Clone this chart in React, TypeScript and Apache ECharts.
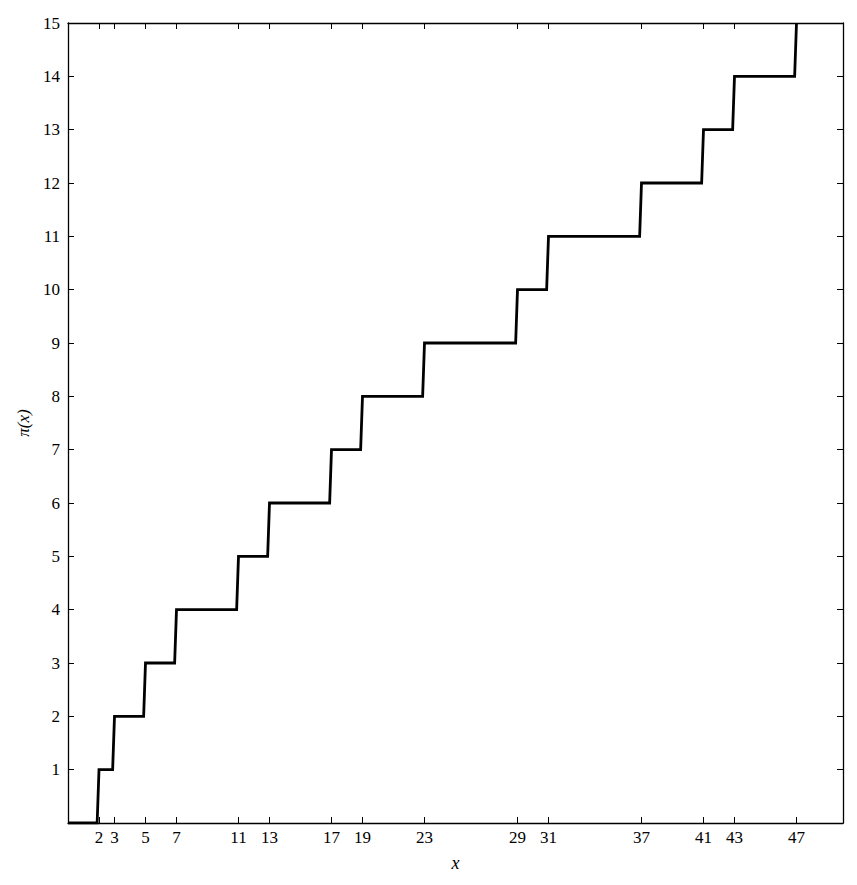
import { useEffect, useRef } from 'react'
import * as echarts from 'echarts'

// primes below 50 and the running count pi(p)
const primes = [2, 3, 5, 7, 11, 13, 17, 19, 23, 29, 31, 37, 41, 43, 47]
const counts = [1, 2, 3, 4, 5, 6, 7, 8, 9, 10, 11, 12, 13, 14, 15]
const yTicks = [1, 2, 3, 4, 5, 6, 7, 8, 9, 10, 11, 12, 13, 14, 15]
const xRange = [0, 50]
const yRange = [0, 15]

// sampled step: the rise happens between the last sample below p and p itself
const RISE = 0.12

function stepPoints(): number[][] {
  const pts: number[][] = [[xRange[0], 0]]
  primes.forEach((p, i) => {
    pts.push([p - RISE, counts[i] - 1])
    pts.push([p, counts[i]])
  })
  return pts
}

const FONT = 'Liberation Serif, DejaVu Serif, serif'

export default function App() {
  const ref = useRef<HTMLDivElement>(null)

  useEffect(() => {
    document.body.style.margin = '0'
    if (!ref.current) return
    const chart = echarts.init(ref.current, undefined, { renderer: 'svg' })

    const line = { show: true, onZero: false, lineStyle: { color: '#000', width: 1.3 } }
    const tick = { show: true, inside: true, length: 6, lineStyle: { color: '#000', width: 1 } }

    const option: echarts.EChartsOption = {
      animation: false,
      backgroundColor: '#fff',
      grid: { left: 68, right: 14, top: 23, bottom: 62 },
      xAxis: [
        {
          type: 'value',
          min: xRange[0],
          max: xRange[1],
          axisLine: line,
          axisTick: { ...tick, customValues: primes } as any,
          axisLabel: {
            customValues: primes,
            color: '#000',
            fontFamily: FONT,
            fontSize: 17,
            margin: 6,
          } as any,
          splitLine: { show: false },
          name: 'x',
          nameLocation: 'middle',
          nameGap: 31,
          nameTextStyle: { color: '#000', fontFamily: FONT, fontStyle: 'italic', fontSize: 18 },
        },
        {
          type: 'value',
          position: 'top',
          min: xRange[0],
          max: xRange[1],
          axisLine: line,
          axisTick: { ...tick, customValues: primes } as any,
          axisLabel: { show: false },
          splitLine: { show: false },
        },
      ],
      yAxis: [
        {
          type: 'value',
          min: yRange[0],
          max: yRange[1],
          axisLine: line,
          axisTick: { ...tick, customValues: yTicks } as any,
          axisLabel: {
            customValues: yTicks,
            color: '#000',
            fontFamily: FONT,
            fontSize: 17,
            margin: 8,
          } as any,
          splitLine: { show: false },
          name: 'π(x)',
          nameLocation: 'middle',
          nameGap: 34,
          nameRotate: 90,
          nameTextStyle: { color: '#000', fontFamily: FONT, fontStyle: 'italic', fontSize: 17 },
        },
        {
          type: 'value',
          position: 'right',
          min: yRange[0],
          max: yRange[1],
          axisLine: line,
          axisTick: { ...tick, customValues: yTicks } as any,
          axisLabel: { show: false },
          splitLine: { show: false },
        },
      ],
      series: [
        {
          type: 'line',
          data: stepPoints(),
          showSymbol: false,
          clip: true,
          lineStyle: { color: '#000', width: 2.8, join: 'miter' } as any,
        },
      ],
    }

    chart.setOption(option)
    return () => chart.dispose()
  }, [])

  return <div ref={ref} style={{ width: 857, height: 885 }} />
}
